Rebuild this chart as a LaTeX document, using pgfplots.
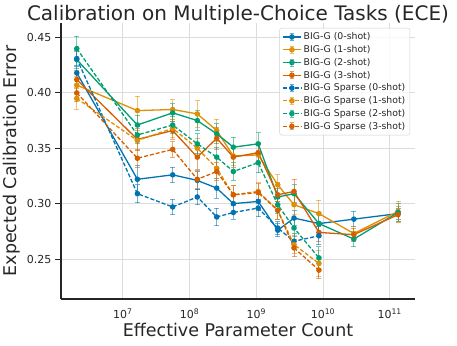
\documentclass[border=0pt]{standalone}
\usepackage{fontspec}
\setmainfont{DejaVu Sans}
\usepackage{pgfplots}
\pgfplotsset{compat=1.18}

\definecolor{cbblue}{HTML}{0173B2}
\definecolor{cbyellow}{HTML}{DE8F05}
\definecolor{cbgreen}{HTML}{029E73}
\definecolor{cborange}{HTML}{D55E00}
\definecolor{textgray}{HTML}{262626}
\definecolor{gridgray}{HTML}{DCDCDC}
\definecolor{legendgray}{HTML}{D0D0D0}

\pgfplotsset{
  ebar/.style={
    line width=1.3pt, mark=*, mark size=2.1pt, mark options={solid},
    error bars/y dir=both, error bars/y explicit,
    error bars/error bar style={line width=1pt, solid, opacity=0.55},
    error bars/error mark options={rotate=90, mark size=2.5pt, line width=1pt, opacity=0.55},
  },
  sparse/.style={dash pattern=on 4pt off 2pt},
}

\begin{document}
\begin{tikzpicture}
\begin{axis}[
  scale only axis,
  width=354pt, height=276pt,
  xmode=log,
  xmin=1.19e6, xmax=2.39e11,
  ymin=0.2139, ymax=0.4631,
  axis lines=left,
  axis line style={-, line width=1.2pt, color=textgray},
  grid=major,
  grid style={color=gridgray, line width=0.8pt},
  xtick={1e7,1e8,1e9,1e10,1e11},
  xticklabels={10\textsuperscript{7},10\textsuperscript{8},10\textsuperscript{9},10\textsuperscript{10},10\textsuperscript{11}},
  minor xtick={},
  xtick style={draw=none},
  ytick={0.25,0.30,0.35,0.40,0.45},
  ytick style={line width=1pt, color=textgray},
  tick align=outside,
  major tick length=6pt,
  yticklabel style={/pgf/number format/.cd, fixed, fixed zerofill, precision=2, assume math mode=true},
  tick label style={font=\fontsize{11}{13}\selectfont, color=textgray},
  every axis title shift=0pt,
  title={Calibration on Multiple-Choice Tasks (ECE)},
  title style={font=\fontsize{20}{22}\selectfont, color=textgray, at={(axis description cs:0.5,1)}, anchor=base, yshift=2.5pt},
  xlabel={Effective Parameter Count},
  xlabel style={font=\fontsize{17.5}{20}\selectfont, color=textgray, at={(axis description cs:0.5,0)}, anchor=base, yshift=-37pt},
  ylabel={Expected Calibration Error},
  ylabel style={font=\fontsize{17.5}{20}\selectfont, color=textgray, at={(axis description cs:-0.1271,0.5)}, anchor=base},
  legend cell align=left,
  legend style={at={(rel axis cs:0.9859,0.9819)}, anchor=north east,
    font=\fontsize{9.3}{11}\selectfont, text=textgray,
    draw=legendgray, rounded corners=2pt, fill=white, fill opacity=0.8, text opacity=1,
    row sep=0.2pt, inner sep=2.5pt},
  legend image code/.code={
    \draw[mark repeat=2,mark phase=2,#1] plot coordinates {(0cm,0cm) (0.32cm,0cm) (0.64cm,0cm)};
    \draw[#1, solid, mark=none, line width=0.9pt, opacity=0.6] (0.32cm,-3.5pt) -- (0.32cm,3.5pt)
      (0.25cm,-3.5pt) -- (0.39cm,-3.5pt) (0.25cm,3.5pt) -- (0.39cm,3.5pt);
  },
]
% BIG-G dense
\addplot[ebar, color=cbblue] coordinates {
  (2.05e6,0.418) +- (0,0.006)
  (1.66e7,0.322) +- (0,0.012)
  (5.6e7,0.326) +- (0,0.007)
  (1.31e8,0.321) +- (0,0.008)
  (2.56e8,0.314) +- (0,0.009)
  (4.54e8,0.300) +- (0,0.007)
  (1.07e9,0.302) +- (0,0.008)
  (2.1e9,0.276) +- (0,0.006)
  (3.68e9,0.287) +- (0,0.007)
  (8.7e9,0.282) +- (0,0.008)
  (2.9e10,0.286) +- (0,0.007)
  (1.33e11,0.291) +- (0,0.005)
};
\addlegendentry{BIG-G (0-shot)}
\addplot[ebar, color=cbyellow] coordinates {
  (2.05e6,0.407) +- (0,0.008)
  (1.66e7,0.384) +- (0,0.013)
  (5.6e7,0.385) +- (0,0.009)
  (1.31e8,0.381) +- (0,0.012)
  (2.56e8,0.366) +- (0,0.010)
  (4.54e8,0.343) +- (0,0.009)
  (1.07e9,0.344) +- (0,0.009)
  (2.1e9,0.317) +- (0,0.009)
  (3.68e9,0.299) +- (0,0.009)
  (8.7e9,0.291) +- (0,0.012)
  (2.9e10,0.273) +- (0,0.006)
  (1.33e11,0.293) +- (0,0.009)
};
\addlegendentry{BIG-G (1-shot)}
\addplot[ebar, color=cbgreen] coordinates {
  (2.05e6,0.430) +- (0,0.008)
  (1.66e7,0.371) +- (0,0.009)
  (5.6e7,0.382) +- (0,0.008)
  (1.31e8,0.375) +- (0,0.009)
  (2.56e8,0.363) +- (0,0.009)
  (4.54e8,0.351) +- (0,0.009)
  (1.07e9,0.354) +- (0,0.010)
  (2.1e9,0.306) +- (0,0.008)
  (3.68e9,0.309) +- (0,0.008)
  (8.7e9,0.282) +- (0,0.010)
  (2.9e10,0.268) +- (0,0.007)
  (1.33e11,0.292) +- (0,0.008)
};
\addlegendentry{BIG-G (2-shot)}
\addplot[ebar, color=cborange] coordinates {
  (2.05e6,0.412) +- (0,0.008)
  (1.66e7,0.358) +- (0,0.010)
  (5.6e7,0.366) +- (0,0.008)
  (1.31e8,0.342) +- (0,0.011)
  (2.56e8,0.359) +- (0,0.010)
  (4.54e8,0.342) +- (0,0.009)
  (1.07e9,0.346) +- (0,0.009)
  (2.1e9,0.308) +- (0,0.011)
  (3.68e9,0.311) +- (0,0.011)
  (8.7e9,0.274) +- (0,0.008)
  (2.9e10,0.272) +- (0,0.006)
  (1.33e11,0.290) +- (0,0.007)
};
\addlegendentry{BIG-G (3-shot)}
% BIG-G sparse
\addplot[ebar, sparse, color=cbblue] coordinates {
  (2.05e6,0.431) +- (0,0.006)
  (1.66e7,0.309) +- (0,0.008)
  (5.6e7,0.297) +- (0,0.007)
  (1.31e8,0.306) +- (0,0.007)
  (2.56e8,0.288) +- (0,0.008)
  (4.54e8,0.292) +- (0,0.006)
  (1.07e9,0.296) +- (0,0.008)
  (2.1e9,0.278) +- (0,0.006)
  (3.68e9,0.266) +- (0,0.007)
  (8.7e9,0.271) +- (0,0.008)
};
\addlegendentry{BIG-G Sparse (0-shot)}
\addplot[ebar, sparse, color=cbyellow] coordinates {
  (2.05e6,0.395) +- (0,0.010)
  (1.66e7,0.357) +- (0,0.009)
  (5.6e7,0.368) +- (0,0.008)
  (1.31e8,0.350) +- (0,0.009)
  (2.56e8,0.332) +- (0,0.009)
  (4.54e8,0.308) +- (0,0.008)
  (1.07e9,0.311) +- (0,0.008)
  (2.1e9,0.294) +- (0,0.008)
  (3.68e9,0.263) +- (0,0.008)
  (8.7e9,0.246) +- (0,0.012)
};
\addlegendentry{BIG-G Sparse (1-shot)}
\addplot[ebar, sparse, color=cbgreen] coordinates {
  (2.05e6,0.440) +- (0,0.011)
  (1.66e7,0.362) +- (0,0.008)
  (5.6e7,0.371) +- (0,0.008)
  (1.31e8,0.354) +- (0,0.009)
  (2.56e8,0.342) +- (0,0.009)
  (4.54e8,0.329) +- (0,0.008)
  (1.07e9,0.337) +- (0,0.009)
  (2.1e9,0.299) +- (0,0.008)
  (3.68e9,0.278) +- (0,0.008)
  (8.7e9,0.251) +- (0,0.010)
};
\addlegendentry{BIG-G Sparse (2-shot)}
\addplot[ebar, sparse, color=cborange] coordinates {
  (2.05e6,0.400) +- (0,0.008)
  (1.66e7,0.341) +- (0,0.008)
  (5.6e7,0.349) +- (0,0.007)
  (1.31e8,0.322) +- (0,0.008)
  (2.56e8,0.329) +- (0,0.008)
  (4.54e8,0.308) +- (0,0.008)
  (1.07e9,0.310) +- (0,0.008)
  (2.1e9,0.294) +- (0,0.008)
  (3.68e9,0.260) +- (0,0.008)
  (8.7e9,0.240) +- (0,0.008)
};
\addlegendentry{BIG-G Sparse (3-shot)}
\end{axis}
\pgfresetboundingbox
\path (-61pt,-46pt) rectangle (396pt,299pt);
\end{tikzpicture}
\end{document}
